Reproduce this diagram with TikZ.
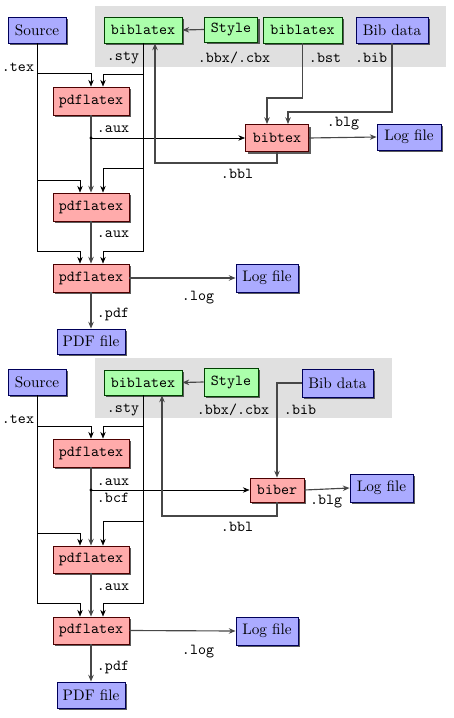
\documentclass[tikz,border=0pt]{standalone}
\usetikzlibrary{shadows,calc,arrows.meta}
\begin{document}
\begin{tikzpicture}[x=0.656pt,y=-0.656pt,
  >={Stealth[length=4.4pt,width=3.6pt]},
  sz/.style 2 args={minimum width=#1*0.656pt, minimum height=#2*0.656pt},
  box/.style={draw, semithick, inner sep=0pt,
    drop shadow={shadow xshift=1.6pt, shadow yshift=-1.6pt, fill=black!75, opacity=0.85}},
  redbox/.style={box, fill=red!33, draw=red!30!black, font=\ttfamily},
  grbox/.style={box, fill=green!33, draw=green!25!black, font=\ttfamily},
  bubox/.style={box, fill=blue!33, draw=blue!35!black},
  lbl/.style={font=\ttfamily, inner sep=0pt},
  gr/.style={draw=black!72, line width=0.75pt},
  bl/.style={draw=black, thin},
  bg/.style={fill=black!12, draw=none},
  dot/.style={fill=black}]
\useasboundingbox (0,0) rectangle (453,718);
% ---------------- top diagram ----------------
\fill[bg] (95,6) rectangle (446,67);
\node[bubox, sz={58}{26}] (src1) at (37,30) {Source};
\node[grbox, sz={78}{26}] (bl1) at (143,30) {biblatex};
\node[grbox, sz={53}{25}] (sty1) at (231,29.5) {Style};
\node[grbox, sz={79}{26}] (bst1) at (302.5,30) {biblatex};
\node[bubox, sz={72}{26}] (bib1) at (392,30) {Bib data};
\node[redbox, sz={76}{28}] (pdf1a) at (91,101) {pdflatex};
\node[redbox, sz={63}{27}] (bibtex) at (277,138) {bibtex};
\node[bubox, sz={64}{26}] (log1) at (409,137) {Log file};
\node[redbox, sz={76}{28}] (pdf1b) at (91,207) {pdflatex};
\node[redbox, sz={76}{28}] (pdf1c) at (91,278) {pdflatex};
\node[bubox, sz={62}{28}] (log1b) at (267,278) {Log file};
\node[bubox, sz={68}{25}] (pdffile1) at (91,341.5) {PDF file};

\node[lbl] (l1) at (123,58) {.sty};
\node[lbl] (l2) at (234,58) {.bbx/.cbx};
\node[lbl] (l3) at (325,58) {.bst};
\node[lbl] (l4) at (371,58) {.bib};
\node[lbl] (l5) at (18,67) {.tex};
\node[lbl] (l6) at (113,129) {.aux};
\node[lbl] (l7) at (343,124) {.blg};
\node[lbl] (l8) at (237,174) {.bbl};
\node[lbl] (l9) at (113,234) {.aux};
\node[lbl] (l10) at (198,298) {.log};
\node[lbl] (l11) at (113,314) {.pdf};

% source lines
\draw[bl,->] (src1.south) -- (37,251) -- (80,251) -- ($(pdf1c.north)+(-11,0)$);
\draw[bl,->] (37,73) -- (91,73) -- (pdf1a.north);
\draw[bl,->] (37,180) -- (80,180) -- ($(pdf1b.north)+(-11,0)$);
% sty lines
\draw[bl,->] (bl1.south) -- (143,251) -- (103,251) -- ($(pdf1c.north)+(12,0)$);
\draw[bl,->] (143,74) -- (103,74) -- ($(pdf1a.north)+(12,0)$);
\draw[bl,->] (143,168) -- (103,168) -- ($(pdf1b.north)+(12,0)$);
% main chain
\draw[gr,->] (pdf1a.south) -- (pdf1b.north);
\coordinate (d1) at (91,138);
\fill[dot] (d1) circle (1.7);
\draw[bl,->] (d1) -- (bibtex.west);
\draw[gr,->] (pdf1b.south) -- (pdf1c.north);
\draw[gr,->] (pdf1c.south) -- (pdffile1.north);
\draw[gr,->] (pdf1c.east) -- (log1b.west);
\draw[gr,->] (bibtex.east) -- (log1.west);
\draw[gr,->] (bibtex.south) -- (277,163) -- (155,163) -- ($(bl1.south)+(12,0)$);
\draw[gr,->] (bst1.south) -- (302.5,98) -- (267,98) -- ($(bibtex.north)+(-10,0)$);
\draw[gr,->] (bib1.south) -- (392,112) -- (288,112) -- ($(bibtex.north)+(11,0)$);
\draw[gr,->] (sty1.west) -- (bl1.east);

% ---------------- bottom diagram ----------------
\fill[bg] (95,358) rectangle (392,418);
\node[bubox, sz={58}{26}] (src2) at (37,382) {Source};
\node[grbox, sz={78}{25}] (bl2) at (143,382.5) {biblatex};
\node[grbox, sz={54}{28}] (sty2) at (231,382) {Style};
\node[bubox, sz={71}{28}] (bib2) at (337.5,383) {Bib data};
\node[redbox, sz={76}{28}] (pdf2a) at (91,453) {pdflatex};
\node[redbox, sz={54}{24}] (biber) at (277,490) {biber};
\node[bubox, sz={63}{28}] (log2) at (381.5,488) {Log file};
\node[redbox, sz={76}{27}] (pdf2b) at (91,559.5) {pdflatex};
\node[redbox, sz={76}{27}] (pdf2c) at (91,630.5) {pdflatex};
\node[bubox, sz={62}{28}] (log2b) at (267,631) {Log file};
\node[bubox, sz={68}{26}] (pdffile2) at (91,695) {PDF file};

\node[lbl] (m1) at (123,410) {.sty};
\node[lbl] (m2) at (233,410) {.bbx/.cbx};
\node[lbl] (m3) at (300,410) {.bib};
\node[lbl] (m4) at (18,419) {.tex};
\node[lbl] (m5) at (113,482) {.aux};
\node[lbl] (m6) at (113,498) {.bcf};
\node[lbl] (m7) at (326,502) {.blg};
\node[lbl] (m8) at (237,527) {.bbl};
\node[lbl] (m9) at (113,587) {.aux};
\node[lbl] (m10) at (198,652) {.log};
\node[lbl] (m11) at (113,667) {.pdf};

% source lines
\draw[bl,->] (src2.south) -- (37,603) -- (80,603) -- ($(pdf2c.north)+(-11,0)$);
\draw[bl,->] (37,426) -- (91,426) -- (pdf2a.north);
\draw[bl,->] (37,533) -- (80,533) -- ($(pdf2b.north)+(-11,0)$);
% sty lines
\draw[bl,->] (bl2.south) -- (143,603) -- (103,603) -- ($(pdf2c.north)+(12,0)$);
\draw[bl,->] (143,426) -- (103,426) -- ($(pdf2a.north)+(12,0)$);
\draw[bl,->] (143,521) -- (103,521) -- ($(pdf2b.north)+(12,0)$);
% main chain
\draw[gr,->] (pdf2a.south) -- (pdf2b.north);
\coordinate (d2) at (91,490);
\fill[dot] (d2) circle (1.7);
\draw[bl,->] (d2) -- (biber.west);
\draw[gr,->] (pdf2b.south) -- (pdf2c.north);
\draw[gr,->] (pdf2c.south) -- (pdffile2.north);
\draw[gr,->] (pdf2c.east) -- (log2b.west);
\draw[gr,->] (biber.east) -- (log2.west);
\draw[gr,->] (biber.south) -- (277,516) -- (162,516) -- ($(bl2.south)+(19,0)$);
\draw[gr,->] (bib2.west) -- (277,383) -- (biber.north);
\draw[gr,->] (sty2.west) -- (bl2.east);
\end{tikzpicture}
\end{document}
